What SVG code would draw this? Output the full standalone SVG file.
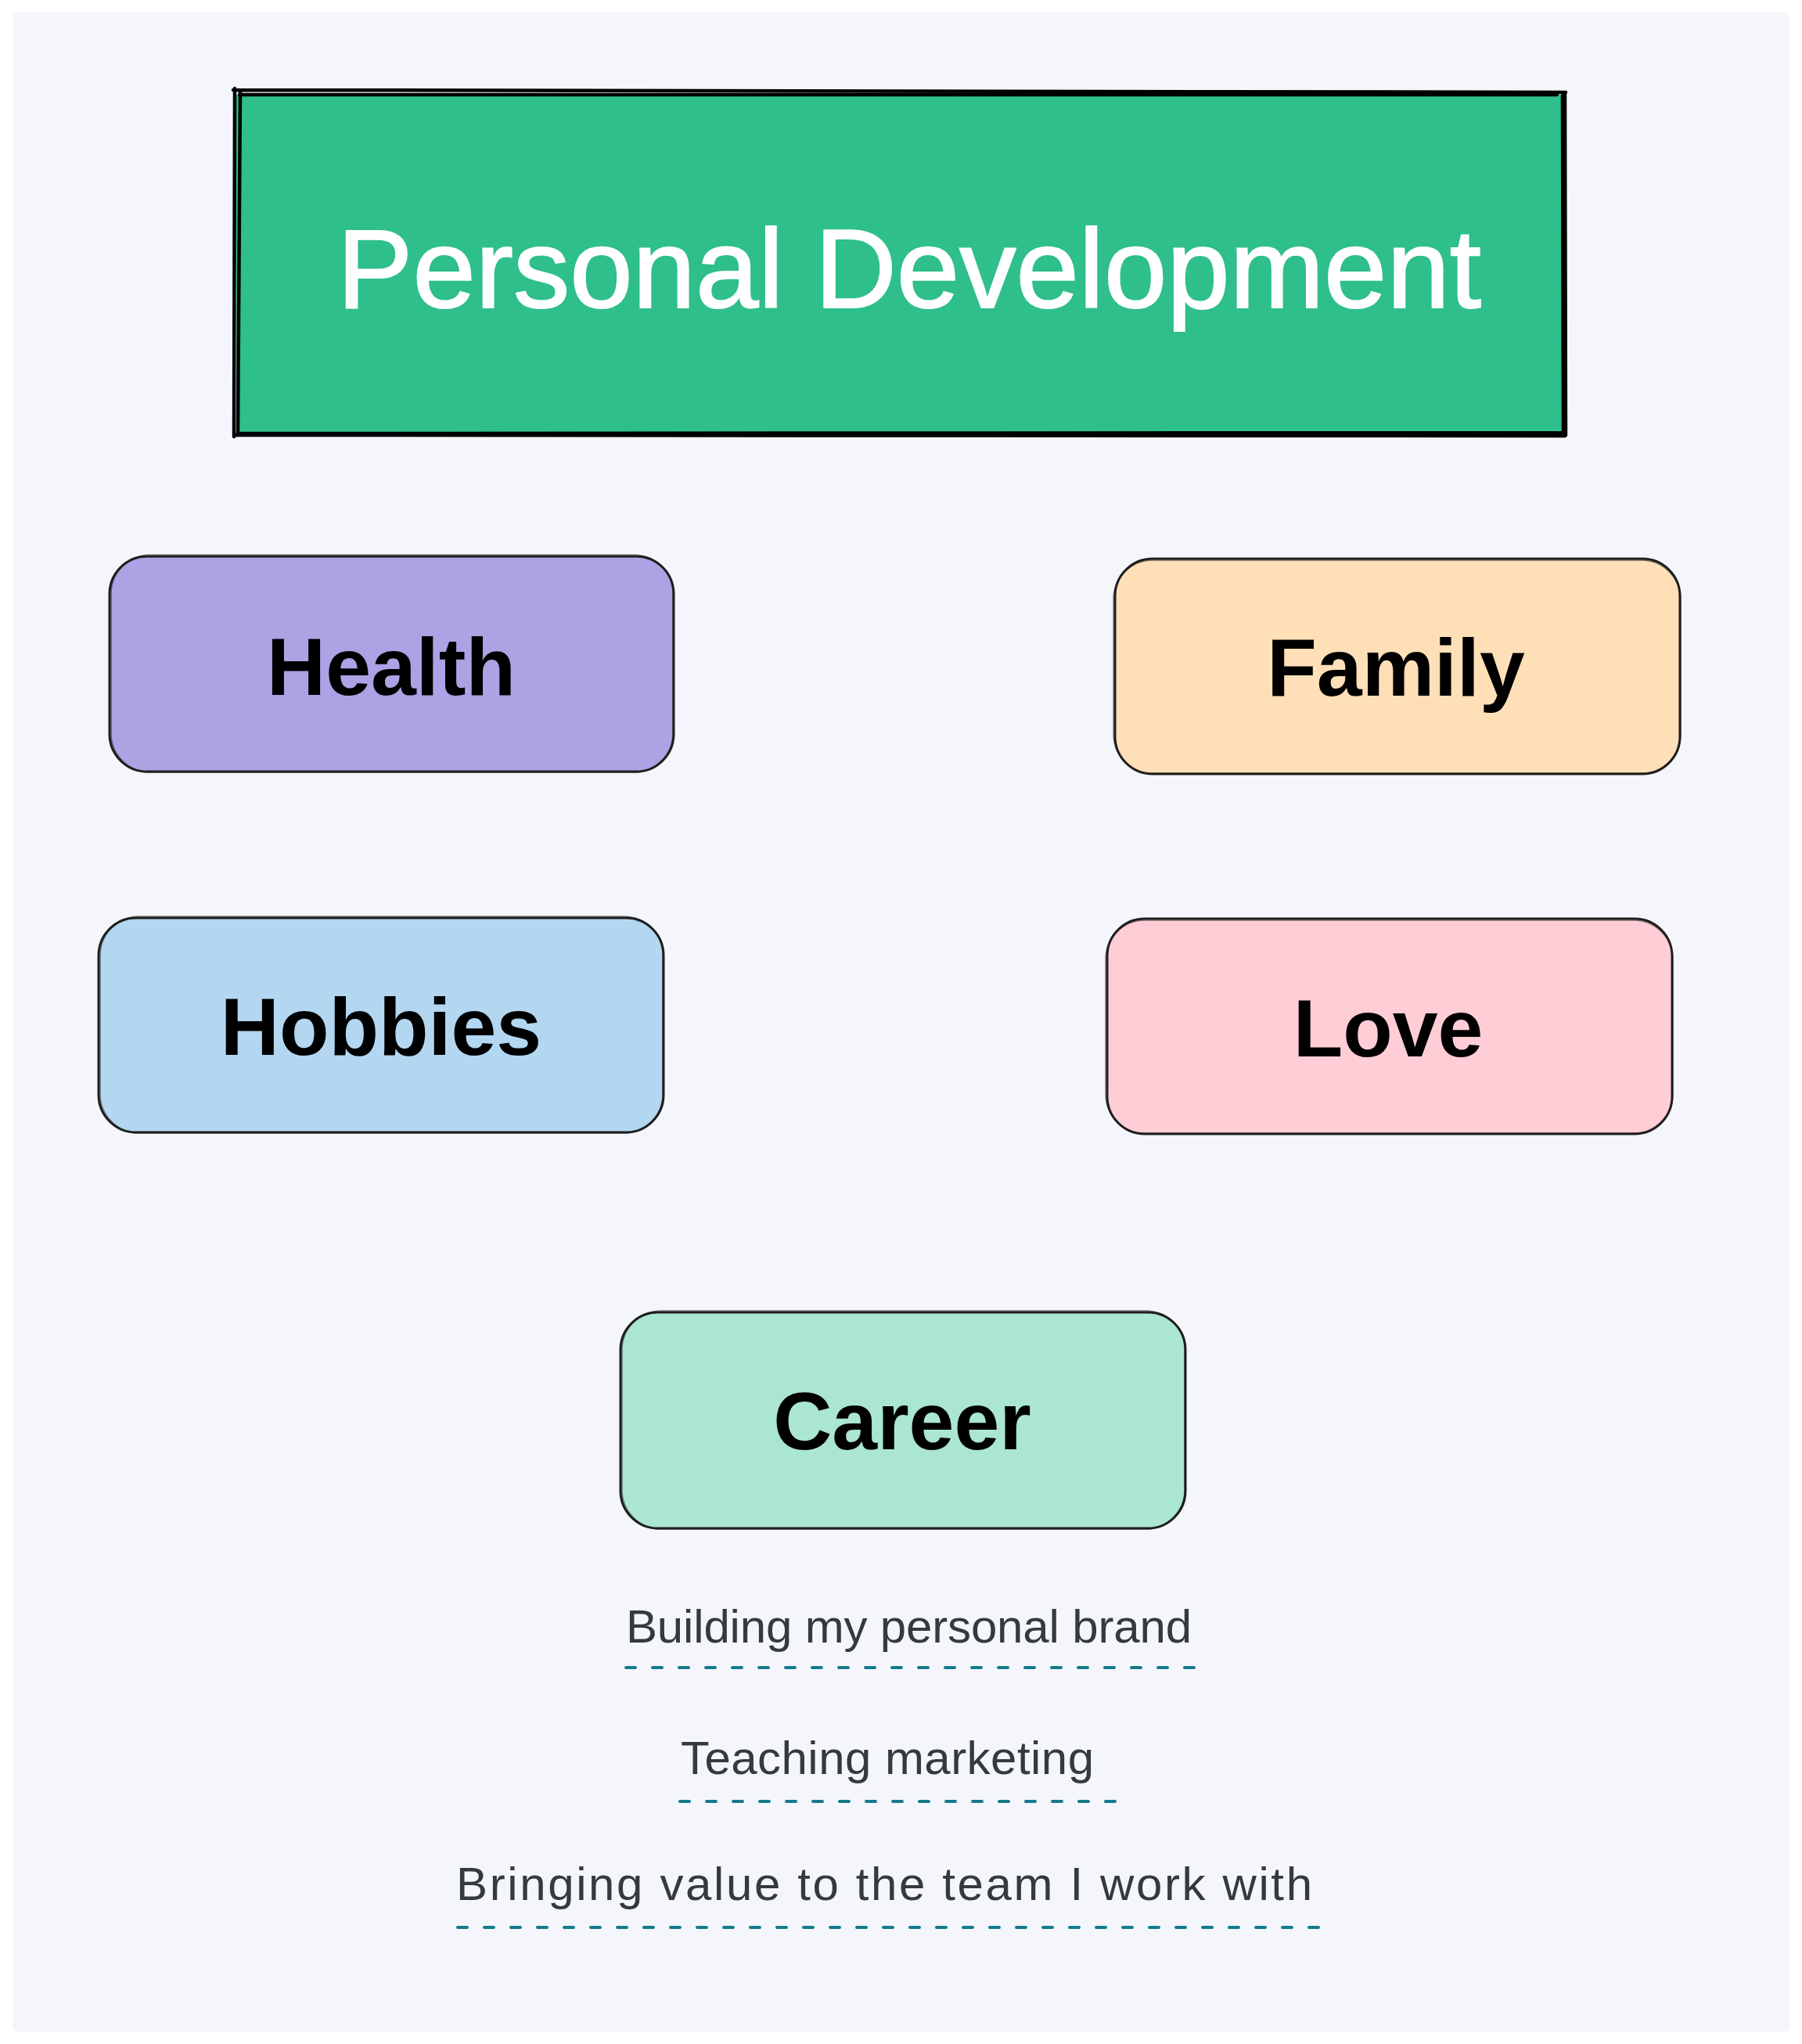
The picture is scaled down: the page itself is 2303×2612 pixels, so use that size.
<svg xmlns="http://www.w3.org/2000/svg" width="2303" height="2612" viewBox="0 0 2303 2612">
  <defs>
    <style>
      .node-box { stroke: #1e1e1e; stroke-width: 3; }
      .node-sketch { fill: none; stroke: #1e1e1e; stroke-width: 1.5; opacity: 0.55; }
      .label { font-family: "Liberation Sans", Arial, sans-serif; font-weight: bold; font-size: 104px; fill: #000000; text-anchor: middle; }
      .title { font-family: "Liberation Sans", Arial, sans-serif; font-size: 142px; fill: #ffffff; stroke: #ffffff; stroke-width: 2; }
      .item { font-family: "Liberation Sans", Arial, sans-serif; font-size: 60px; fill: #343a40; }
      .dash { stroke: #127b8c; stroke-width: 4; stroke-linecap: round; stroke-dasharray: 12 22; fill: none; }
      .frame { stroke: #000000; stroke-width: 4.5; fill: none; stroke-linecap: round; }
    </style>
  </defs>

  <rect x="0" y="0" width="2303" height="2612" fill="#ffffff"/>
  <rect x="16" y="16" width="2271" height="2580" rx="6" fill="#f5f6fb"/>

  <g id="title">
    <rect x="302" y="121" width="1695" height="433" fill="#2ebf8b"/>
    <path class="frame" d="M298 115 L2001 118 M300 556 L2000 557 M300 113 L299 558 M2000 119 L2001 556"/>
    <path class="frame" d="M306 121 L1990 121 M305 554 L1997 553 M307 116 L304 556 M1997 122 L1998 555" stroke-width="2.5"/>
    <text class="title" x="431" y="393" textLength="1462" lengthAdjust="spacingAndGlyphs">Personal Development</text>
  </g>

  <g id="health">
    <rect class="node-box" x="140" y="711" width="721" height="275" rx="48" fill="#aba3e4" stroke="#444444"/>
    <rect class="node-sketch" x="142" y="709" width="718" height="278" rx="50"/>
    <text class="label" x="500" y="888">Health</text>
  </g>

  <g id="family">
    <rect class="node-box" x="1425" y="714" width="722" height="275" rx="48" fill="#ffdfb8"/>
    <rect class="node-sketch" x="1423" y="716" width="725" height="272" rx="50"/>
    <text class="label" x="1784" y="889">Family</text>
  </g>

  <g id="hobbies">
    <rect class="node-box" x="126" y="1173" width="722" height="274" rx="48" fill="#b3d7f0"/>
    <rect class="node-sketch" x="128" y="1171" width="719" height="277" rx="50"/>
    <text class="label" x="487" y="1348">Hobbies</text>
  </g>

  <g id="love">
    <rect class="node-box" x="1415" y="1174" width="722" height="275" rx="48" fill="#ffcdd6"/>
    <rect class="node-sketch" x="1413" y="1176" width="725" height="272" rx="50"/>
    <text class="label" x="1774" y="1350">Love</text>
  </g>

  <g id="career">
    <rect class="node-box" x="793" y="1677" width="722" height="276" rx="48" fill="#aae6d1"/>
    <rect class="node-sketch" x="795" y="1675" width="719" height="279" rx="50"/>
    <text class="label" x="1153" y="1852">Career</text>
  </g>

  <g id="career-items">
    <text class="item" x="800" y="2099" textLength="723" lengthAdjust="spacing">Building my personal brand</text>
    <text class="item" x="870" y="2267" textLength="528" lengthAdjust="spacing">Teaching marketing</text>
    <text class="item" x="583" y="2428" textLength="1094" lengthAdjust="spacing">Bringing value to the team I work with</text>
  </g>

  <g id="connectors">
    <line class="dash" x1="800" y1="2131" x2="1526" y2="2131"/>
    <line class="dash" x1="869" y1="2302" x2="1426" y2="2302"/>
    <line class="dash" x1="585" y1="2463" x2="1685" y2="2463"/>
  </g>
</svg>
